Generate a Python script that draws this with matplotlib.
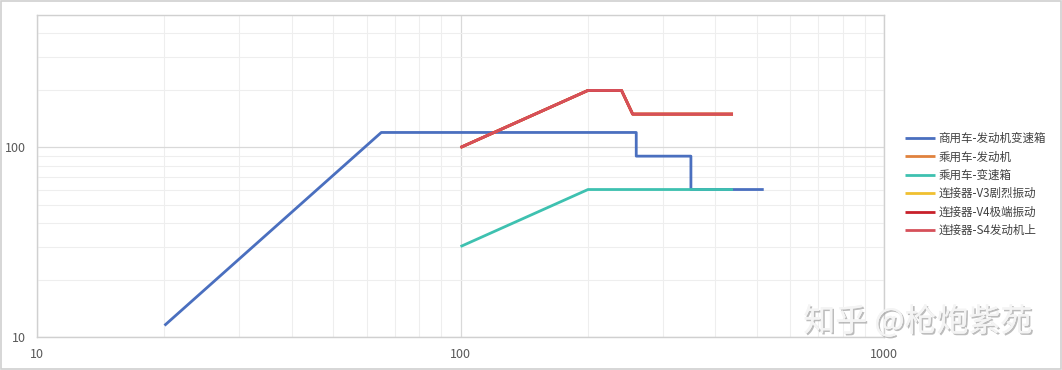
import matplotlib.pyplot as plt
import matplotlib.patheffects as pe
from matplotlib.ticker import LogLocator, FixedLocator, NullFormatter, FuncFormatter

plt.rcParams['font.family'] = ['Noto Sans CJK SC', 'DejaVu Sans']

# === Données (fréquence Hz / amplitude) ===
names = ['商用车-发动机变速箱', '乘用车-发动机', '乘用车-变速箱',
         '连接器-V3剧烈振动', '连接器-V4极端振动', '连接器-S4发动机上']
colors = ['#4A6FBF', '#E0823D', '#3EC1B0', '#F0C030', '#C8202A', '#D6505A']

truck_x = [20, 65, 260, 260, 350, 350, 520]
truck_y = [11.5, 120, 120, 90, 90, 60, 60]

car_engine_x = [100, 200, 240, 255, 440]
car_engine_y = [100, 200, 200, 150, 150]

car_gear_x = [100, 200, 440]
car_gear_y = [30, 60, 60]

v3_x = [100, 200, 240, 255, 440]
v3_y = [100, 200, 200, 150, 150]

v4_x = [100, 200, 240, 255, 440]
v4_y = [100, 200, 200, 150, 150]

s4_x = [100, 200, 240, 255, 440]
s4_y = [100, 200, 200, 150, 150]

series = [(truck_x, truck_y), (car_engine_x, car_engine_y), (car_gear_x, car_gear_y),
          (v3_x, v3_y), (v4_x, v4_y), (s4_x, s4_y)]

fig = plt.figure(figsize=(10.62, 3.70), dpi=100)
ax = fig.add_axes([37 / 1062, 1 - 337 / 370, (884 - 37) / 1062, (337 - 15) / 370])

for (xs, ys), name, c in zip(series, names, colors):
    ax.plot(xs, ys, color=c, linewidth=2.0, label=name, solid_capstyle='butt')

ax.set_xscale('log')
ax.set_yscale('log')
ax.set_xlim(10, 1000)
ax.set_ylim(10, 500)

ax.xaxis.set_major_locator(FixedLocator([10, 100, 1000]))
ax.yaxis.set_major_locator(FixedLocator([10, 100]))
ax.xaxis.set_minor_locator(LogLocator(base=10, subs=range(2, 10)))
ax.yaxis.set_minor_locator(LogLocator(base=10, subs=range(2, 10)))
fmt = FuncFormatter(lambda v, p: '%d' % v)
ax.xaxis.set_major_formatter(fmt)
ax.yaxis.set_major_formatter(fmt)
ax.xaxis.set_minor_formatter(NullFormatter())
ax.yaxis.set_minor_formatter(NullFormatter())

ax.grid(which='major', color='#d9d9d9', linewidth=0.9)
ax.grid(which='minor', color='#eeeeee', linewidth=0.8)
ax.set_axisbelow(True)
ax.tick_params(which='both', length=0, labelsize=9, colors='#595959')
ax.tick_params(axis='x', pad=8)
ax.tick_params(axis='y', pad=8)
for s in ax.spines.values():
    s.set_color('#d0d0d0')
    s.set_linewidth(1.0)

fig.legend(loc='upper left', bbox_to_anchor=(905 / 1062, 1 - 132 / 370), frameon=False,
           fontsize=8.3, handlelength=2.6, handletextpad=0.3, labelspacing=0.47,
           borderpad=0, borderaxespad=0, labelcolor='#404040')

# cadre extérieur
fig.patches.append(plt.Rectangle((0.001, 0.002), 0.998, 0.996, transform=fig.transFigure,
                                 fill=False, edgecolor='#d0d0d0', linewidth=1.2))

# filigrane
fig.text(918 / 1062, 1 - 322 / 370, '知乎 @枪炮紫苑', ha='center', va='center',
         fontsize=23, color='#f4f4f4',
         path_effects=[pe.withSimplePatchShadow(offset=(1.2, -1.2), shadow_rgbFace='#a0a0a0', alpha=0.7),
                       pe.Normal()])

fig.savefig('out.png', dpi=100)
